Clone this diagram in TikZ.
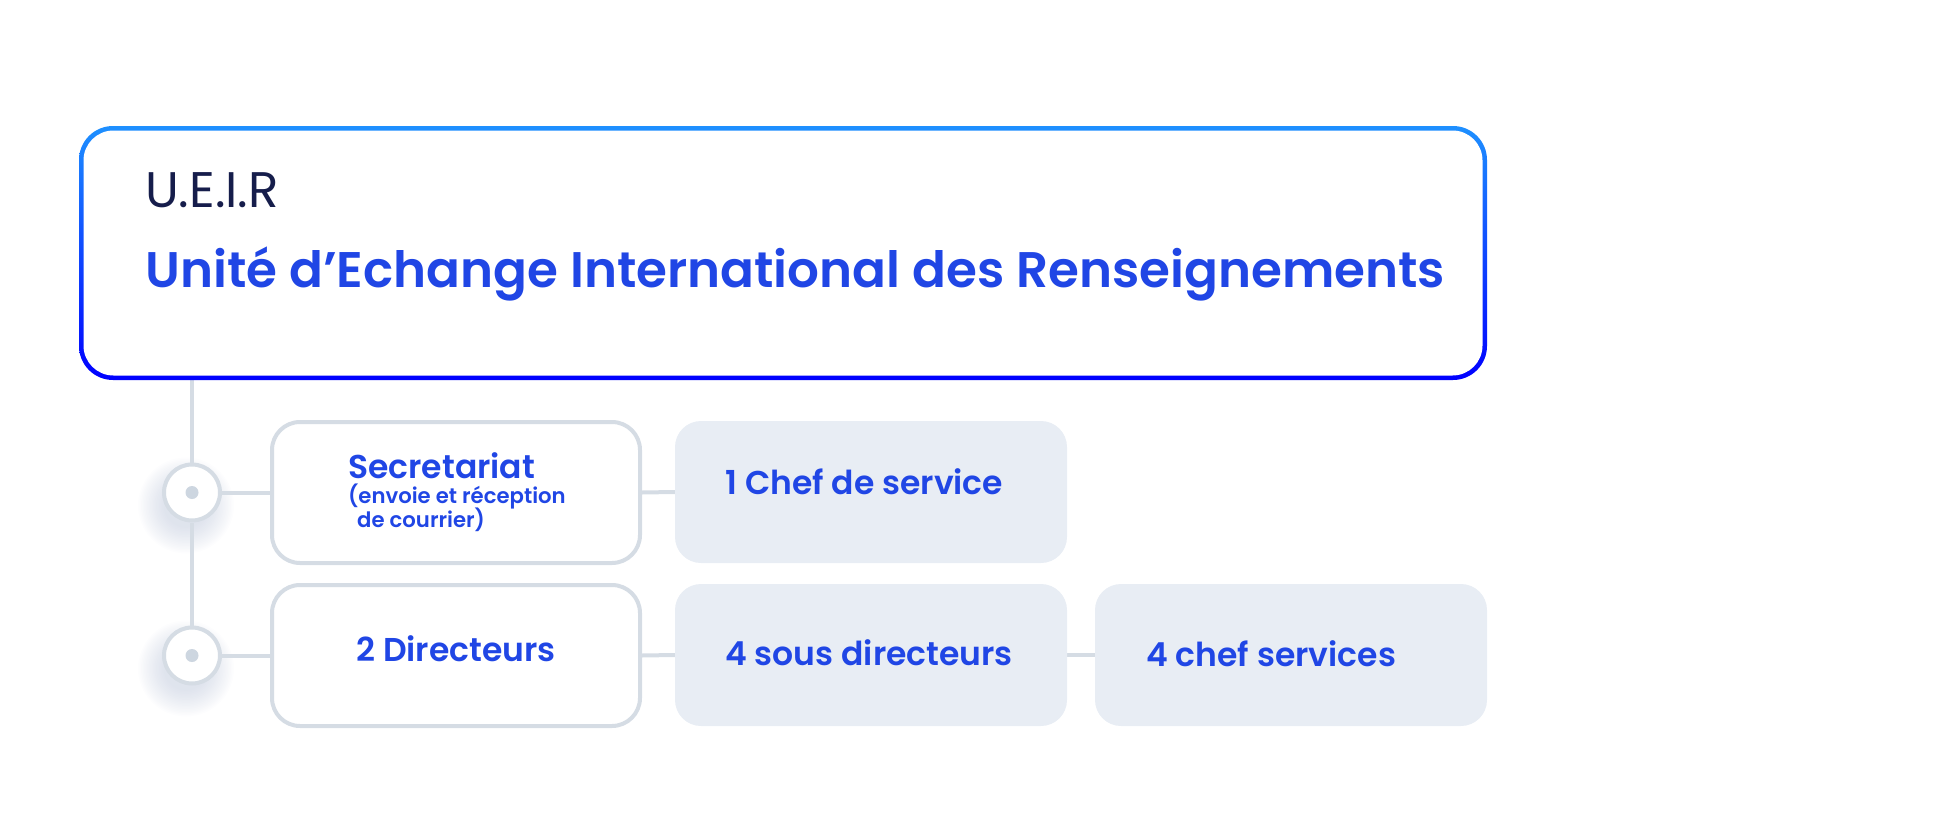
\documentclass[tikz,border=0pt]{standalone}
\usepackage{fontspec}
\setmainfont{Poppins}[BoldFont={Poppins SemiBold}]
\usetikzlibrary{backgrounds}
\definecolor{txtblue}{HTML}{2046E5}
\definecolor{navy}{HTML}{161D4B}
\definecolor{linegray}{HTML}{D5DCE4}
\definecolor{boxfill}{HTML}{E8EDF4}
\definecolor{dotgray}{HTML}{CDD6E0}
\definecolor{topblue}{HTML}{1E90FF}
\definecolor{botblue}{HTML}{0000FF}
\definecolor{shadowblue}{HTML}{A3B0CC}
\tikzset{
  outline box/.style={draw=linegray, line width=4pt, fill=white, rounded corners=28pt,
    minimum width=368pt, minimum height=141pt, inner sep=0pt},
  filled box/.style={fill=boxfill, rounded corners=26pt,
    minimum width=392pt, minimum height=142pt, inner sep=0pt},
  bullet/.style={circle, draw=linegray, line width=4pt, fill=white, minimum size=56pt, inner sep=0pt},
  dot/.style={circle, fill=dotgray, minimum size=13pt, inner sep=0pt},
  softshadow/.style={fill=shadowblue, opacity=0.025},
  conn/.style={draw=linegray, line width=4pt},
  label/.style={text=txtblue, font=\bfseries\fontsize{33}{40}\selectfont, inner sep=0pt, anchor=base west},
}
\begin{document}
\begin{tikzpicture}[x=1pt, y=-1pt]
\useasboundingbox (0,0) rectangle (1960,816);
% main box
\node[shade, top color=topblue, bottom color=botblue, rounded corners=34pt,
  minimum width=1408pt, minimum height=254pt, inner sep=0pt] (mainouter) at (783,253) {};
\node[fill=white, rounded corners=30pt, minimum width=1399pt, minimum height=245pt, inner sep=0pt] (main) at (783,253) {};
\node[anchor=base west, inner sep=0pt, text=navy, font=\fontsize{50}{58}\selectfont] (abbr) at (145,207) {U.E.I.R};
\node[anchor=base west, inner sep=0pt, text=txtblue, font=\bfseries\fontsize{50}{60}\selectfont] (title) at (145,287) {Unité d’Echange International des Renseignements};
% boxes
\node[outline box] (sec) at (456,492.5) {};
\node[outline box] (dir) at (456,655.5) {};
\node[filled box] (chef) at (871,492) {};
\node[filled box] (sous) at (871,655) {};
\node[filled box] (chefs) at (1291,655) {};
% bullets
\node[bullet] (c1) at (192,492.5) {};
\node[bullet] (c2) at (192,655.5) {};
\node[dot] (d1) at (c1) {};
\node[dot] (d2) at (c2) {};
% shadows and connectors
\begin{scope}[on background layer]
\foreach \r in {48,46.5,...,22} {
  \fill[softshadow] ([shift={(-6,13)}]c1.center) circle[radius=\r];
  \fill[softshadow] ([shift={(-6,13)}]c2.center) circle[radius=\r];
}
\draw[conn] (c1 |- mainouter.south) -- (c1);
\draw[conn] (c1) -- (c2);
\draw[conn] (c1) -- (sec);
\draw[conn] (c2) -- (dir);
\draw[conn] (sec.east) -- (chef.west);
\draw[conn] (dir.east) -- (sous.west);
\draw[conn] (sous.east) -- (chefs.west);
\end{scope}
% texts
\node[label, font=\bfseries\fontsize{33}{38}\selectfont] (sect) at (348,478) {Secretariat};
\node[label, font=\bfseries\fontsize{21.2}{25}\selectfont] (sub1) at (348,503) {(envoie et réception};
\node[label, font=\bfseries\fontsize{21.2}{25}\selectfont] (sub2) at (357,527) {de courrier)};
\node[label, anchor=base] (dirt) at (456,661) {2 Directeurs};
\node[label] (cheft) at (725,494) {1 Chef de service};
\node[label] (sioust) at (725,665) {4 sous directeurs};
\node[label] (chefst) at (1146,666) {4 chef services};
\end{tikzpicture}
\end{document}
